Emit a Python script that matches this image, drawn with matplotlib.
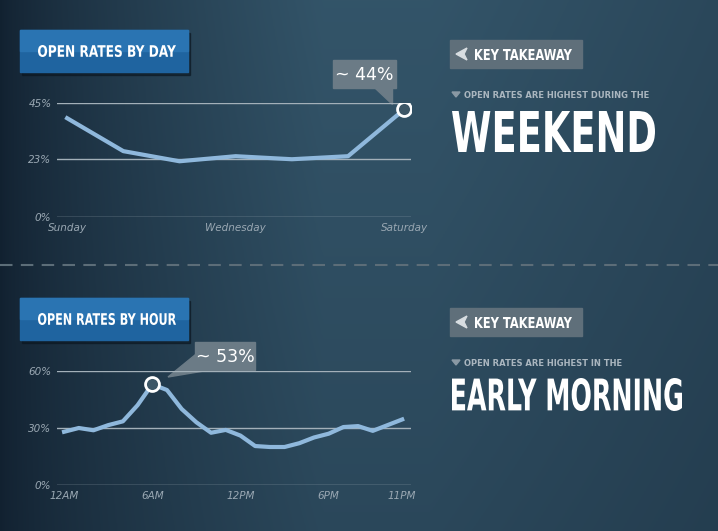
import matplotlib.pyplot as plt
import numpy as np
from matplotlib.patches import Rectangle, Polygon, PathPatch
from matplotlib.textpath import TextPath
from matplotlib.font_manager import FontProperties
from matplotlib.transforms import Affine2D

# --- Data ---
days = ["Sunday", "Monday", "Tuesday", "Wednesday", "Thursday", "Friday", "Saturday"]
day_rates = [39, 26, 22, 24, 22.8, 24, 42.5]
day_ticks = [0, 3, 6]
day_tick_labels = ["Sunday", "Wednesday", "Saturday"]
day_yticks = [0, 23, 45]

hours = list(range(24))
hour_rates = [28, 30, 28.8, 31.5, 33.5, 42, 53, 50, 40, 33, 27.5, 29,
              26, 20.5, 20, 20, 22, 25, 27, 30.5, 31, 28.5, 31.5, 34.5]
hour_ticks = [0, 6, 12, 18, 23]
hour_tick_labels = ["12AM", "6AM", "12PM", "6PM", "11PM"]
hour_yticks = [0, 30, 60]

W, H = 718, 531
LINE = "#8fb8dc"
TICK = "#9aa8b3"
BOLD = FontProperties(family="DejaVu Sans", weight="bold")


def fx(x):
    return x / W


def fy(y):
    return 1 - y / H


fig = plt.figure(figsize=(W / 100, H / 100), dpi=100)

# background gradient
bg = fig.add_axes([0, 0, 1, 1])
xs = np.linspace(0, 1, 300)
ys = np.linspace(0, 1, 200)
X, Y = np.meshgrid(xs, ys)
horiz = np.clip(X / 0.45, 0, 1) ** 0.7 * (1 - 0.25 * np.clip((X - 0.6) / 0.4, 0, 1))
t = horiz * (1 - 0.25 * Y)
dark = np.array([0.07, 0.13, 0.19])
light = np.array([0.20, 0.33, 0.41])
img = dark + (light - dark) * t[..., None]
bg.imshow(img, extent=[0, W, H, 0], aspect="auto")
bg.set_xlim(0, W)
bg.set_ylim(H, 0)
bg.axis("off")

# dashed separator
bg.plot([0, W], [265, 265], color="#5c6d78", lw=1.5, ls=(0, (6, 4)))


def fit_text(text, x0, x1, ytop, ybot, color="white"):
    # condensed text: glyph outlines squeezed into a pixel box
    path = TextPath((0, 0), text, size=10, prop=BOLD)
    bb = path.get_extents()
    sx = (x1 - x0) / bb.width
    sy = (ybot - ytop) / bb.height
    tr = (Affine2D().translate(-bb.x0, -bb.y0).scale(sx, -sy)
          .translate(x0, ybot))
    bg.add_patch(PathPatch(tr.transform_path(path), color=color, lw=0))


def header(x, y, w, h, text):
    bg.add_patch(Rectangle((x + 2, y + 3), w, h, color="#0b1620", alpha=0.6))
    bg.add_patch(Rectangle((x, y), w, h, color="#1f64a0"))
    bg.add_patch(Rectangle((x, y), w, h / 2, color="#2a74b2"))
    fit_text(text, x + 18, x + w - 12, y + 15, y + 27)


def takeaway(x, y, sub, big, bigw, btop, bbot):
    bg.add_patch(Rectangle((x, y), 132, 28, color="#5f6f7a"))
    bg.add_patch(Polygon([(x + 6, y + 14), (x + 17, y + 8), (x + 14, y + 14),
                          (x + 17, y + 20)], color="#d8dde1"))
    fit_text("KEY TAKEAWAY", x + 25, x + 122, y + 9, y + 20)
    bg.add_patch(Polygon([(x + 2, y + 52), (x + 10, y + 52), (x + 6, y + 57)],
                         color="#8a99a4"))
    bg.text(x + 14, y + 55, sub, color="#aab6bf", fontsize=6,
            fontweight="bold", va="center")
    fit_text(big, x + 2, x + 2 + bigw, btop, bbot)


def callout(x, y, w, h, tip, text):
    bg.add_patch(Rectangle((x, y), w, h, color="#6b7b86"))
    bg.add_patch(Polygon(tip, color="#6b7b86"))
    bg.text(x + w / 2, y + h / 2 + 1, text, color="white", fontsize=12.5,
            ha="center", va="center")


header(20, 30, 168, 42, "OPEN RATES BY DAY")
header(20, 298, 168, 42, "OPEN RATES BY HOUR")
takeaway(450, 40, "OPEN RATES ARE HIGHEST DURING THE", "WEEKEND", 203, 111, 152)
takeaway(450, 308, "OPEN RATES ARE HIGHEST IN THE", "EARLY MORNING", 230, 378, 411)
callout(333, 60, 63, 28, [(375, 88), (392, 88), (392, 104)], "~ 44%")
callout(195, 342, 60, 28, [(195, 355), (210, 370), (168, 377)], "~ 53%")


def chart(rect, xv, yv, xlim, ylim, xt, xtl, yt, peak):
    ax = fig.add_axes(rect)
    ax.patch.set_alpha(0)
    for v in yt:
        ax.axhline(v, color="#a3b0b9", lw=1, zorder=1)
    ax.plot(xv, yv, color=LINE, lw=3, solid_joinstyle="round", zorder=3)
    ax.plot(xv[peak], yv[peak], "o", ms=10, mfc="#3d5767", mec="white",
            mew=2, zorder=4)
    ax.set_xlim(*xlim)
    ax.set_ylim(*ylim)
    ax.set_xticks(xt)
    ax.set_xticklabels(xtl, style="italic", color=TICK, fontsize=7.5)
    ax.set_yticks(yt)
    ax.set_yticklabels([f"{v}%" for v in yt], style="italic", color=TICK,
                       fontsize=7.5)
    ax.tick_params(length=0, pad=4)
    for s in ax.spines.values():
        s.set_visible(False)
    return ax


def rect(l, t, r, b):
    return [fx(l), fy(b), fx(r) - fx(l), fy(t) - fy(b)]


chart(rect(57, 103, 411, 217), list(range(7)), day_rates, (-0.18, 6.12),
      (0, 45), day_ticks, day_tick_labels, day_yticks, 6)
chart(rect(57, 371, 411, 485), hours, hour_rates, (-0.48, 23.6),
      (0, 60), hour_ticks, hour_tick_labels, hour_yticks, 6)

fig.savefig("out.png", dpi=100)
